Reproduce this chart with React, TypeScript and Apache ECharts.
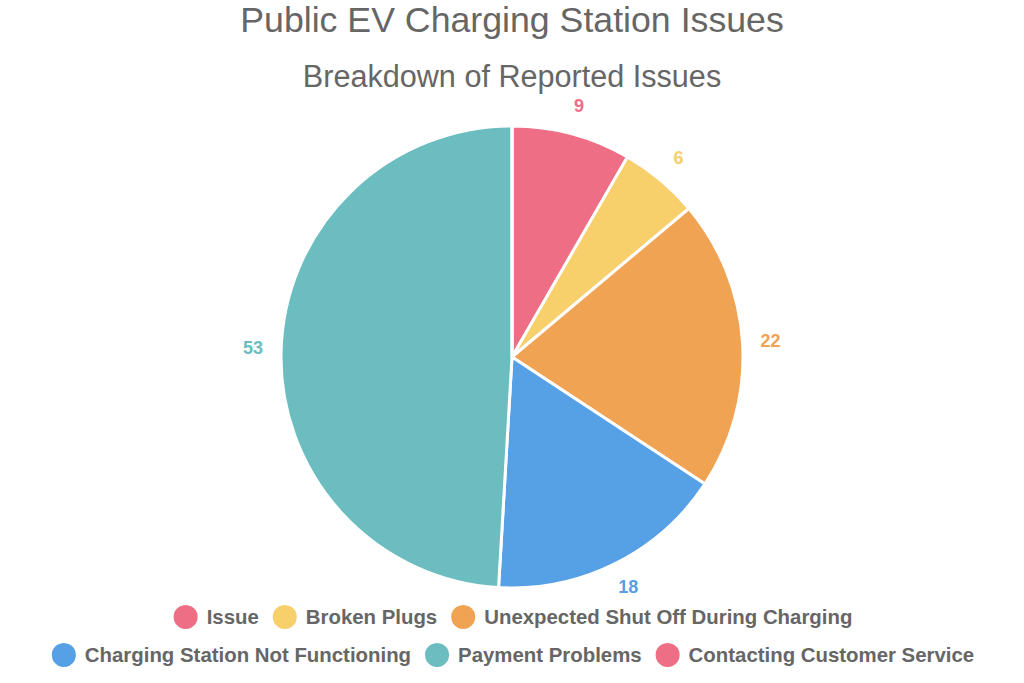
import { useEffect, useRef } from "react";
import * as echarts from "echarts";

const categories = [
  "Issue",
  "Broken Plugs",
  "Unexpected Shut Off During Charging",
  "Charging Station Not Functioning",
  "Payment Problems",
  "Contacting Customer Service",
];
const values = [9, 6, 22, 18, 53, 0];
const colors = ["#ed6e85", "#f7cf6b", "#f1a354", "#56a0e5", "#6cbdbf", "#ed6e85"];

const FONT = "Liberation Sans, Arial, sans-serif";
const CX = 512;
const CY = 357;
const R = 231;
const LABEL_R = 259;

// mid angle of every slice, clockwise from 12 o'clock
const total = values.reduce((a, b) => a + b, 0);
const midAngles = values.map((v, i) => {
  const before = values.slice(0, i).reduce((a, b) => a + b, 0);
  return ((before + v / 2) / total) * Math.PI * 2;
});

export default function App() {
  const ref = useRef<HTMLDivElement>(null);

  useEffect(() => {
    const el = ref.current;
    if (!el) return;
    const chart = echarts.init(el, null, { renderer: "svg" });

    const legendItem = (name: string, i: number) => ({
      name,
      itemStyle: { color: colors[i] },
    });
    // circle is 26px; the wider box leaves 3px each side of it
    const legendBase = {
      left: "center",
      icon: "circle",
      itemWidth: 32,
      itemHeight: 26,
      itemGap: 12,
      padding: 0,
      textStyle: { fontFamily: FONT, fontSize: 20.4, fontWeight: "bold", color: "#666666" },
    };

    chart.setOption({
      animation: false,
      backgroundColor: "#ffffff",
      title: [
        {
          text: "Public EV Charging Station Issues",
          left: "center",
          top: 2,
          padding: 0,
          textStyle: { fontFamily: FONT, fontSize: 35.7, fontWeight: "normal", color: "#666666" },
        },
        {
          text: "Breakdown of Reported Issues",
          left: "center",
          top: 60,
          padding: 0,
          textStyle: { fontFamily: FONT, fontSize: 30.6, fontWeight: "normal", color: "#666666" },
        },
      ],
      legend: [
        { ...legendBase, data: categories.slice(0, 3).map((n, i) => legendItem(n, i)), top: 603 },
        { ...legendBase, data: categories.slice(3).map((n, i) => legendItem(n, i + 3)), top: 641 },
      ],
      series: [
        {
          type: "pie",
          center: [CX, CY],
          radius: [0, R],
          startAngle: 90,
          clockwise: true,
          stillShowZeroSum: true,
          avoidLabelOverlap: false,
          itemStyle: { borderColor: "#ffffff", borderWidth: 3 },
          label: {
            show: true,
            position: "outside",
            formatter: "{c}",
            fontFamily: FONT,
            fontSize: 18,
            fontWeight: "bold",
          },
          labelLine: { show: false },
          labelLayout: (params: { dataIndex: number }) => {
            const a = midAngles[params.dataIndex];
            return {
              x: CX + LABEL_R * Math.sin(a),
              y: CY - LABEL_R * Math.cos(a) - 1,
              align: "center",
              verticalAlign: "middle",
            };
          },
          emphasis: { disabled: true },
          data: categories.map((name, i) => ({
            name,
            value: values[i],
            itemStyle: { color: colors[i] },
            label: { show: values[i] > 0, color: colors[i] },
          })),
        },
      ],
    });

    return () => chart.dispose();
  }, []);

  return <div ref={ref} style={{ width: 1024, height: 683, position: "absolute", left: 0, top: 0 }} />;
}
